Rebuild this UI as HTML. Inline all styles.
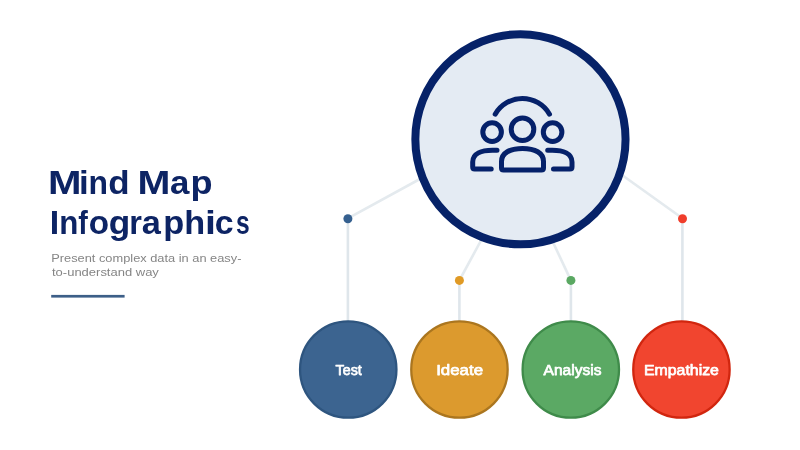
<!DOCTYPE html>
<html><head><meta charset="utf-8">
<style>
html,body{margin:0;padding:0;background:#fff;width:800px;height:450px;overflow:hidden}
svg{display:block;will-change:transform}
text{font-family:"Liberation Sans",sans-serif}
</style></head>
<body>
<svg width="800" height="450" viewBox="0 0 800 450">
<rect width="800" height="450" fill="#ffffff"/>
<text transform="translate(48.01,194.4) scale(1.1961,1)" font-size="33.6" font-weight="bold" fill="#0d2464">M</text>
<text transform="translate(79.06,194.4) scale(1.0412,1)" font-size="33.6" font-weight="bold" fill="#0d2464">i</text>
<text transform="translate(88.40,194.4) scale(0.9491,1)" font-size="33.6" font-weight="bold" fill="#0d2464">n</text>
<text transform="translate(108.17,194.4) scale(1.0395,1)" font-size="33.6" font-weight="bold" fill="#0d2464">d</text>
<text transform="translate(137.46,194.4) scale(1.1748,1)" font-size="33.6" font-weight="bold" fill="#0d2464">M</text>
<text transform="translate(169.88,194.4) scale(1.0382,1)" font-size="33.6" font-weight="bold" fill="#0d2464">a</text>
<text transform="translate(190.42,194.4) scale(1.0749,1)" font-size="33.6" font-weight="bold" fill="#0d2464">p</text>
<text transform="translate(49.72,234.2) scale(1.0124,1)" font-size="33.6" font-weight="bold" fill="#0d2464">I</text>
<text transform="translate(59.24,234.2) scale(0.9306,1)" font-size="33.6" font-weight="bold" fill="#0d2464">n</text>
<text transform="translate(78.21,234.2) scale(0.8520,1)" font-size="33.6" font-weight="bold" fill="#0d2464">f</text>
<text transform="translate(88.70,234.2) scale(0.9889,1)" font-size="33.6" font-weight="bold" fill="#0d2464">o</text>
<text transform="translate(108.86,234.2) scale(1.0474,1)" font-size="33.6" font-weight="bold" fill="#0d2464">g</text>
<text transform="translate(129.36,234.2) scale(0.9660,1)" font-size="33.6" font-weight="bold" fill="#0d2464">r</text>
<text transform="translate(141.69,234.2) scale(1.0215,1)" font-size="33.6" font-weight="bold" fill="#0d2464">a</text>
<text transform="translate(163.24,234.2) scale(1.0218,1)" font-size="33.6" font-weight="bold" fill="#0d2464">p</text>
<text transform="translate(184.31,234.2) scale(1.0190,1)" font-size="33.6" font-weight="bold" fill="#0d2464">h</text>
<text transform="translate(204.95,234.2) scale(1.1713,1)" font-size="33.6" font-weight="bold" fill="#0d2464">i</text>
<text transform="translate(214.78,234.2) scale(1.0067,1)" font-size="33.6" font-weight="bold" fill="#0d2464">c</text>
<text transform="translate(235.94,234.2) scale(0.7317,1)" font-size="33.6" font-weight="bold" fill="#0d2464">s</text>
<text x="51.22" y="261.80" font-size="11.8" fill="#858585" textLength="190.22" lengthAdjust="spacingAndGlyphs">Present complex data in an easy-</text>
<text x="52.02" y="276.00" font-size="11.8" fill="#858585" textLength="106.84" lengthAdjust="spacingAndGlyphs">to-understand way</text>
<rect x="51.2" y="294.9" width="73.4" height="2.7" fill="#3d5f88"/>
<g stroke="#dfe6eb" stroke-width="2.6" fill="none">
<line x1="347.9" y1="321" x2="347.9" y2="218.8"/>
<line x1="459.4" y1="321" x2="459.4" y2="280.4"/>
<line x1="570.9" y1="321" x2="570.9" y2="280.4"/>
<line x1="682.4" y1="321" x2="682.4" y2="218.8"/>
</g>
<g stroke="#e4eaee" stroke-width="2.6" fill="none" stroke-linecap="round">
<line x1="347.9" y1="218.3" x2="430" y2="173.5"/>
<line x1="459.4" y1="280.4" x2="484.5" y2="234"/>
<line x1="570.9" y1="280.4" x2="551" y2="238"/>
<line x1="682.4" y1="218.3" x2="615" y2="170"/>
</g>
<circle cx="347.9" cy="218.8" r="4.5" fill="#35608f"/>
<circle cx="459.4" cy="280.4" r="4.5" fill="#e09a25"/>
<circle cx="570.9" cy="280.4" r="4.5" fill="#5aa862"/>
<circle cx="682.5" cy="218.8" r="4.5" fill="#f03d2b"/>
<circle cx="520.45" cy="139.25" r="105.1" fill="#e4ebf3" stroke="#062268" stroke-width="8"/>
<g fill="none" stroke="#05216a" stroke-width="5" stroke-linecap="round" stroke-linejoin="round">
<path d="M495.2,114.2 A31.3,31.3 0 0 1 549.5,114.2"/>
<circle cx="522.5" cy="129.3" r="11.3"/>
<circle cx="492.1" cy="132.1" r="9.3"/>
<circle cx="552.6" cy="132.1" r="9.3"/>
<path d="M501.5,161.5 C501.5,153 510,148.4 522.5,148.4 C535,148.4 543.5,153 543.5,161.5 L543.5,168 Q543.5,170.1 541.4,170.1 L503.6,170.1 Q501.5,170.1 501.5,168 Z"/>
<path d="M497,150.3 L492.5,150.3 C481.5,150.3 472.7,153.5 472.7,162 L472.7,166.9 Q472.7,168.9 474.7,168.9 L491.2,168.9"/>
<path d="M547.7,150.3 L552.2,150.3 C563.2,150.3 572.0,153.5 572.0,162 L572.0,166.9 Q572.0,168.9 570.0,168.9 L553.5,168.9"/>
</g>
<circle cx="348.25" cy="369.5" r="48.2" fill="#3c6490" stroke="#2e557f" stroke-width="2.3"/>
<circle cx="459.45" cy="369.5" r="48.2" fill="#dc9a2e" stroke="#ab761f" stroke-width="2.3"/>
<circle cx="570.8" cy="369.5" r="48.2" fill="#5ba964" stroke="#3f8b4a" stroke-width="2.3"/>
<circle cx="681.45" cy="369.5" r="48.2" fill="#f1452f" stroke="#d1260f" stroke-width="2.3"/>
<text x="335.60" y="375.00" font-size="15.3" fill="#ffffff" textLength="26.15" lengthAdjust="spacingAndGlyphs" stroke="#ffffff" stroke-width="0.75" stroke-linejoin="round">Test</text>
<text x="436.19" y="375.00" font-size="15.3" fill="#ffffff" textLength="46.86" lengthAdjust="spacingAndGlyphs" stroke="#ffffff" stroke-width="0.75" stroke-linejoin="round">Ideate</text>
<text x="543.63" y="375.00" font-size="15.3" fill="#ffffff" textLength="57.81" lengthAdjust="spacingAndGlyphs" stroke="#ffffff" stroke-width="0.75" stroke-linejoin="round">Analysis</text>
<text x="644.03" y="375.00" font-size="15.3" fill="#ffffff" textLength="74.90" lengthAdjust="spacingAndGlyphs" stroke="#ffffff" stroke-width="0.75" stroke-linejoin="round">Empathize</text>
</svg>
</body></html>
